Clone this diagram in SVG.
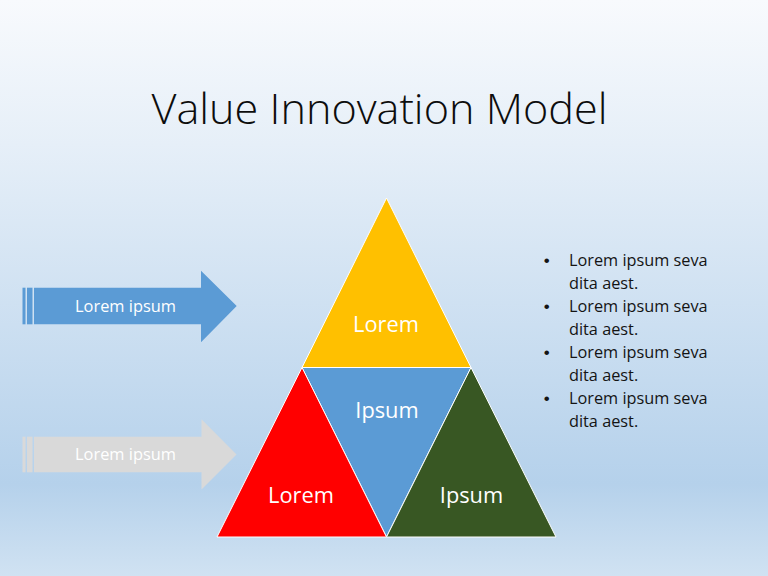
<svg xmlns="http://www.w3.org/2000/svg" width="768" height="576" viewBox="0 0 768 576">
  <defs>
    <linearGradient id="bg" x1="0" y1="0" x2="0" y2="1">
      <stop offset="0" stop-color="#F8FAFD"/>
      <stop offset="0.25" stop-color="#E6EFF8"/>
      <stop offset="0.84" stop-color="#B5D1EB"/>
      <stop offset="1" stop-color="#D0E2F2"/>
    </linearGradient>
  </defs>
  <style>
    .title { font-family: "Open Sans", "Liberation Sans", sans-serif; font-size: 43.2px; font-weight: 300; fill: #0D0D0D; }
    .arrowtxt { font-family: "Open Sans", "Liberation Sans", sans-serif; font-size: 16.4px; fill: #FFFFFF; text-anchor: middle; }
    .tri { stroke: #FFFFFF; stroke-width: 1; stroke-linejoin: round; }
    .trilabel { font-family: "Open Sans", "Liberation Sans", sans-serif; font-size: 21.8px; fill: #FFFFFF; text-anchor: middle; }
    .bullet { font-family: "Open Sans", "Liberation Sans", sans-serif; font-size: 16.3px; fill: #141414; }
    .dot { font-family: "Liberation Sans", sans-serif; font-size: 17px; fill: #141414; text-anchor: middle; }
  </style>

  <rect x="0" y="0" width="768" height="576" fill="url(#bg)"/>

  <g id="title">
    <text class="title" x="379.5" y="124" text-anchor="middle">Value Innovation Model</text>
  </g>

  <g id="arrow-blue" fill="#5B9BD5">
    <rect x="22.5" y="287.7" width="3" height="36.6"/>
    <rect x="27" y="287.7" width="5.5" height="36.6"/>
    <path d="M34 287.7 H201 V270.7 L236.7 306 L201 342.3 V324.3 H34 Z"/>
    <text class="arrowtxt" x="125.5" y="312.3">Lorem ipsum</text>
  </g>

  <g id="arrow-gray" fill="#D9D9D9">
    <rect x="22.5" y="436.7" width="3" height="35.6"/>
    <rect x="27" y="436.7" width="5.5" height="35.6"/>
    <path d="M34 436.7 H201.5 V419.3 L236.5 454.5 L201.5 489.5 V472.3 H34 Z"/>
    <text class="arrowtxt" x="125.5" y="460">Lorem ipsum</text>
  </g>

  <g id="tri-top">
    <polygon class="tri" fill="#FFC000" points="386.5,198 471,367.5 302,367.5"/>
    <text class="trilabel" x="386" y="331.5">Lorem</text>
  </g>

  <g id="tri-middle">
    <polygon class="tri" fill="#5B9BD5" points="302,367.5 471,367.5 386.5,537"/>
    <text class="trilabel" x="387" y="417.5">Ipsum</text>
  </g>

  <g id="tri-left">
    <polygon class="tri" fill="#FF0000" points="302,367.5 386.5,537 217,537"/>
    <text class="trilabel" x="301" y="502.5">Lorem</text>
  </g>

  <g id="tri-right">
    <polygon class="tri" fill="#385723" points="471,367.5 556,537 386.5,537"/>
    <text class="trilabel" x="471.5" y="502.5">Ipsum</text>
  </g>

  <g id="bullets">
    <text class="dot" x="546.7" y="265.5">•</text>
    <text class="bullet" x="569" y="266">Lorem ipsum seva</text>
    <text class="bullet" x="569" y="289">dita aest.</text>
    <text class="dot" x="546.7" y="311.8">•</text>
    <text class="bullet" x="569" y="312.3">Lorem ipsum seva</text>
    <text class="bullet" x="569" y="335.3">dita aest.</text>
    <text class="dot" x="546.7" y="357.8">•</text>
    <text class="bullet" x="569" y="358.3">Lorem ipsum seva</text>
    <text class="bullet" x="569" y="381.3">dita aest.</text>
    <text class="dot" x="546.7" y="403.8">•</text>
    <text class="bullet" x="569" y="404.3">Lorem ipsum seva</text>
    <text class="bullet" x="569" y="427">dita aest.</text>
  </g>
</svg>
